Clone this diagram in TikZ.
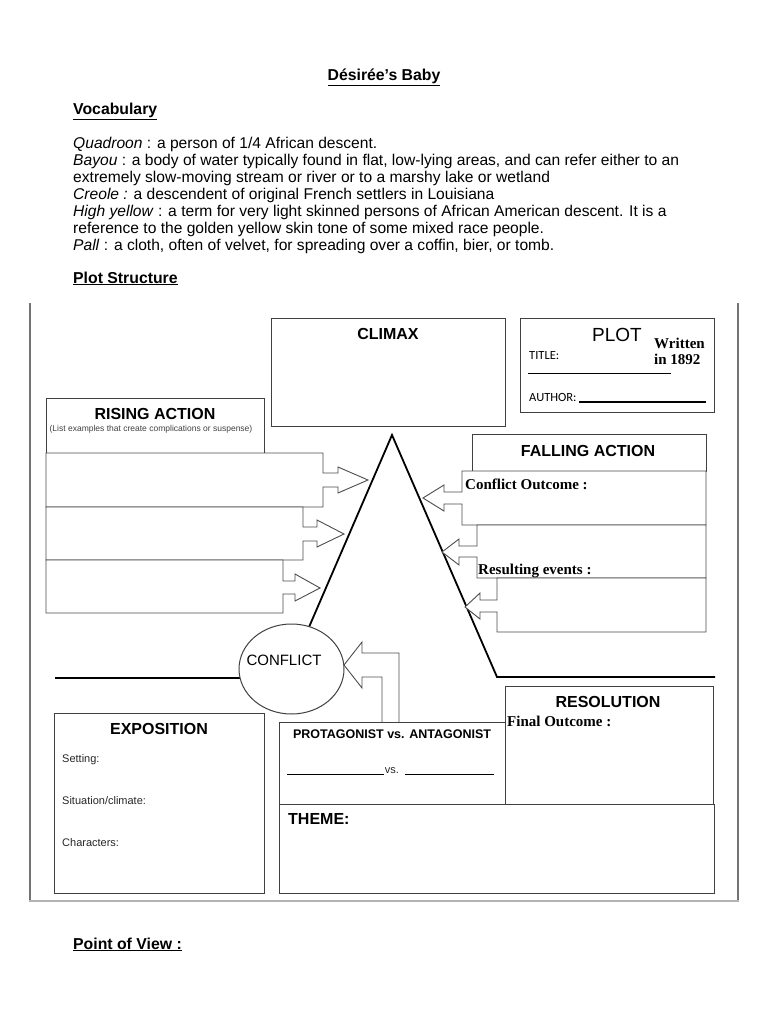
\documentclass[tikz,border=0pt]{standalone}
\usepackage{fontspec}
\setmainfont{Liberation Sans}
\newfontfamily\timesfont{Liberation Serif}
\newfontfamily\calibrifont{Carlito}
\usetikzlibrary{positioning,shapes.geometric}

\begin{document}
\begin{tikzpicture}[x=1pt,y=-1pt,every node/.style={inner sep=0pt},
  box/.style={draw=black!75,line width=1.2pt,anchor=north west},
  head/.style={font=\fontsize{16}{18}\selectfont\bfseries,anchor=base},
  title/.style={font=\fontsize{15.8}{17}\selectfont\bfseries,anchor=base west},
  note/.style={font=\timesfont\fontsize{15}{16}\selectfont\bfseries,anchor=base west},
  small/.style={font=\fontsize{11}{13}\selectfont,anchor=base west,text=black!85},
  hand/.style={draw=black!70,line width=0.9pt,fill=white},
  ridge/.style={line width=1.8pt,line join=miter}]
\useasboundingbox (0,0) rectangle (768,1024);
% header and vocabulary
\node[title,anchor=base] (doctitle) at (384,81) {\underline{Désirée’s Baby}};
\node[title] (vocabhead) at (73,115) {\underline{Vocabulary}};
\node[font=\fontsize{15.6}{16.85}\selectfont,anchor=base west,align=left] (vocab) at (73,250) {%
\textit{Quadroon} : a person of 1/4 African descent.\\
\textit{Bayou} : a body of water typically found in flat, low-lying areas, and can refer either to an\\
extremely slow-moving stream or river or to a marshy lake or wetland\\
\textit{Creole :} a descendent of original French settlers in Louisiana\\
\textit{High yellow} : a term for very light skinned persons of African American descent. It is a\\
reference to the golden yellow skin tone of some mixed race people.\\
\textit{Pall} : a cloth, often of velvet, for spreading over a coffin, bier, or tomb.};
\node[title] (plothead) at (73,283) {\underline{Plot Structure}};
\node[title] (povhead) at (73,949) {\underline{Point of View :}};

% frame
\draw[black!55,line width=1.6pt] (30,303) -- (30,901);
\draw[black!55,line width=1.6pt] (738,303) -- (738,901);
\draw[black!30,line width=2.5pt] (29,901) -- (739,901);

% mountain
\draw[ridge] (55,678) -- (287,678) -- (392,435) -- (497,677) -- (715,677);

% top boxes
\node[box,minimum width=234,minimum height=108] (climax) at (271,318) {};
\node[head] (climaxlbl) at (388,339) {CLIMAX};
\node[box,minimum width=194,minimum height=94] (plot) at (520,318) {};
\node[font=\fontsize{19}{20}\selectfont,anchor=base] (plotlbl) at (617,341) {PLOT};
\node[note,align=left] (written) at (654,364) {Written\\in 1892};
\node[font=\calibrifont\fontsize{12.5}{14}\selectfont,anchor=base west] (titlelbl) at (529,359) {TITLE:};
\node[font=\calibrifont\fontsize{12.5}{14}\selectfont,anchor=base west] (authorlbl) at (529,401) {AUTHOR:};
\draw[line width=0.9pt] (528,373) -- (671,373);
\draw[line width=1.4pt] (579,402) -- (706,402);

% rising action
\node[box,minimum width=218,minimum height=55] (rising) at (46,398) {};
\node[head] (risinglbl) at (155,419) {RISING ACTION};
\node[font=\fontsize{8.5}{9}\selectfont,anchor=base,text=black!75] (risingsub) at (151,431) {(List examples that create complications or suspense)};
\draw[hand] (46,453) -- (323,453) -- (323,473) -- (338,473) -- (338,467) -- (368,480) -- (338,493) -- (338,487) -- (323,487) -- (323,507) -- (46,507) -- cycle;
\draw[hand] (46,507) -- (303,507) -- (303,527) -- (317,527) -- (317,520) -- (344,534) -- (317,547) -- (317,541) -- (303,541) -- (303,560) -- (46,560) -- cycle;
\draw[hand] (46,560) -- (283,560) -- (283,581) -- (295,581) -- (295,574) -- (320,588) -- (295,601) -- (295,594) -- (283,594) -- (283,613) -- (46,613) -- cycle;

% falling action
\node[box,minimum width=234,minimum height=37] (falling) at (472,434) {};
\node[head] (fallinglbl) at (588,456) {FALLING ACTION};
\draw[hand] (706,471) -- (462,471) -- (462,492) -- (444,492) -- (444,485) -- (423,498) -- (444,511) -- (444,504) -- (462,504) -- (462,525) -- (706,525) -- cycle;
\draw[hand] (706,525) -- (477,525) -- (477,546) -- (459,546) -- (459,539) -- (442,552) -- (459,565) -- (459,557) -- (477,557) -- (477,578) -- (706,578) -- cycle;
\draw[hand] (706,578) -- (497,578) -- (497,600) -- (480,600) -- (480,593) -- (465,607) -- (480,619) -- (480,612) -- (497,612) -- (497,632) -- (706,632) -- cycle;
\node[note] (outcome) at (465,489) {Conflict Outcome :};
\node[note] (events) at (478,574) {Resulting events :};

% conflict
\node[ellipse,draw=black!75,line width=1pt,fill=white,minimum width=105,minimum height=90] (conflict) at (291.5,669) {};
\node[font=\fontsize{15}{16}\selectfont,anchor=base] (conflictlbl) at (284,665.5) {CONFLICT};
\draw[hand,fill=none] (382,722) -- (382,677) -- (362,677) -- (362,688) -- (344,665) -- (362,642) -- (362,653) -- (399,653) -- (399,722);

% bottom boxes
\node[box,minimum width=210,minimum height=180] (exposition) at (54,713) {};
\node[head] (expositionlbl) at (159,734) {EXPOSITION};
\node[small] (setting) at (62,762) {Setting:};
\node[small] (climate) at (62,804) {Situation/climate:};
\node[small] (characters) at (62,846) {Characters:};
\node[box,minimum width=226,minimum height=82] (versus) at (279,722) {};
\node[font=\fontsize{12.5}{14}\selectfont\bfseries,anchor=base] (versuslbl) at (392,738.5) {PROTAGONIST vs. ANTAGONIST};
\node[font=\fontsize{11}{12}\selectfont,anchor=base,text=black!85] (vs) at (392,773) {vs.};
\draw[line width=0.8pt] (287,774) -- (384,774);
\draw[line width=0.8pt] (405,774) -- (494,774);
\node[box,minimum width=208,minimum height=118] (resolution) at (505,686) {};
\node[head] (resolutionlbl) at (608,707) {RESOLUTION};
\node[note] (final) at (507,726) {Final Outcome :};
\node[box,minimum width=435,minimum height=89] (theme) at (279,804) {};
\node[head,anchor=base west] (themelbl) at (288,824) {THEME:};
\end{tikzpicture}
\end{document}
